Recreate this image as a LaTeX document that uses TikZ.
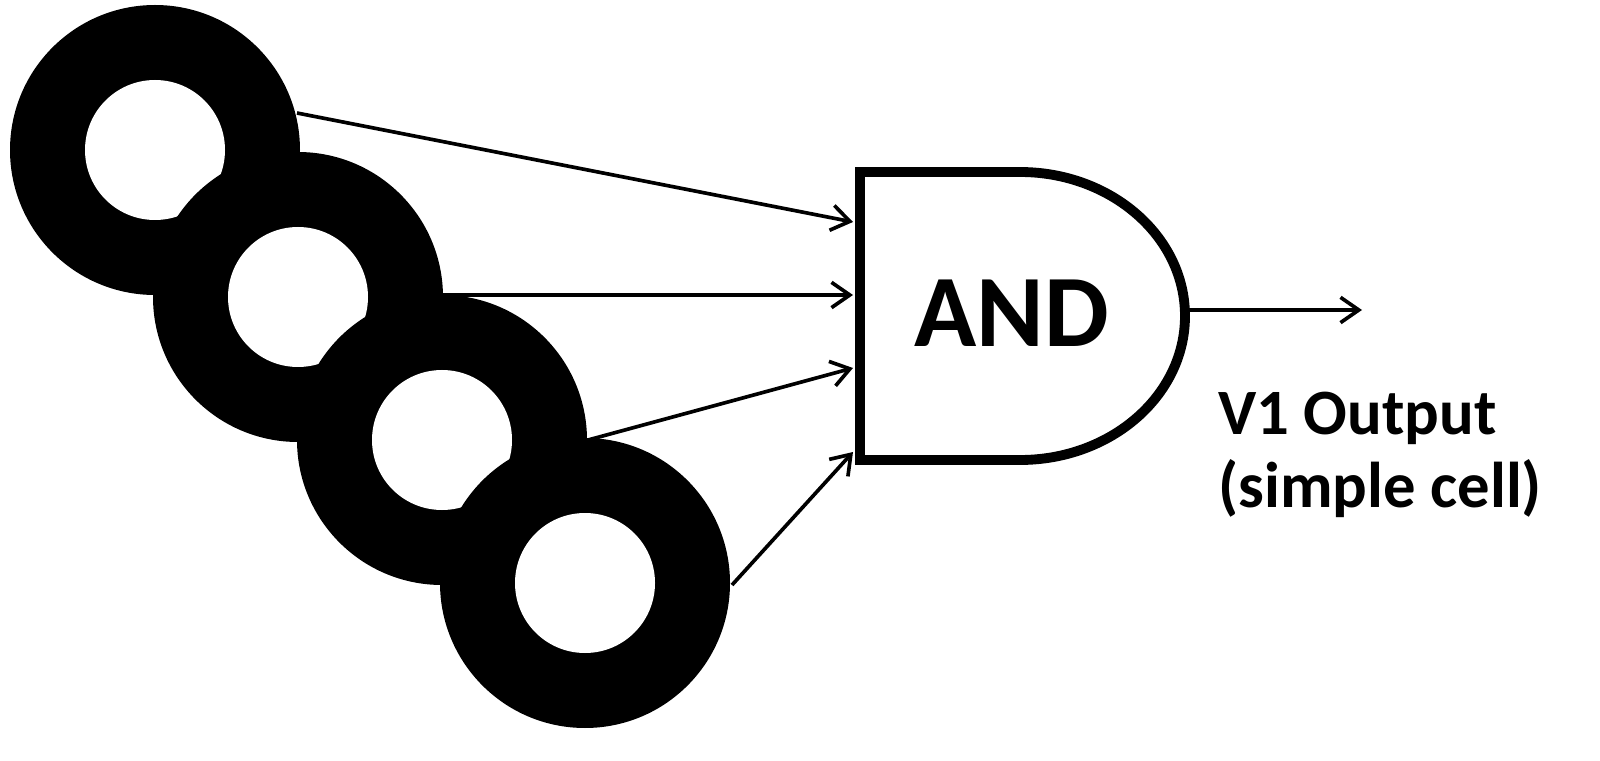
\documentclass[tikz,border=0pt]{standalone}
\usepackage{fontspec}
\setmainfont{Carlito}
\usetikzlibrary{arrows.meta}
\begin{document}
\begin{tikzpicture}[x=0.025cm,y=-0.025cm,
  conn/.style={line width=2.6pt,-{Straight Barb[length=13pt,width=18pt,line width=2.6pt]}},
  lbl/.style={font=\bfseries\fontsize{46}{52}\selectfont,align=left,anchor=north west,inner sep=0pt}]
\useasboundingbox (0,0) rectangle (1600,761);
\foreach \i/\x/\y in {1/155/150,2/298/297,3/442/440,4/585/583}{
  \fill[black] (\x,\y) circle[radius=145];
  \fill[white] (\x,\y) circle[radius=70];
  \coordinate (r\i) at (\x,\y);
}
\coordinate (o1) at (297,113);
\coordinate (o2) at (442,295);
\coordinate (o3) at (588,440);
\coordinate (o4) at (732,585);
\coordinate (i1) at (853,222);
\coordinate (i2) at (853,295);
\coordinate (i3) at (853,368);
\coordinate (i4) at (853,452);
\draw[conn] (o1) -- (i1);
\draw[conn] (o2) -- (i2);
\draw[conn] (o3) -- (i3);
\draw[conn] (o4) -- (i4);
\draw[line width=7pt,fill=white] (860,172) -- (1020,172) arc[start angle=-90,end angle=90,x radius=165,y radius=144] -- (860,460) -- cycle;
\node[font=\bfseries\fontsize{73}{80}\selectfont,inner sep=0pt] (gate) at (1012,313) {AND};
\coordinate (gout) at (1185,310);
\coordinate (out) at (1362,310);
\draw[conn] (gout) -- (out);
\node[lbl] (label) at (1218,392) {V1 Output\\(simple cell)};
\end{tikzpicture}
\end{document}
